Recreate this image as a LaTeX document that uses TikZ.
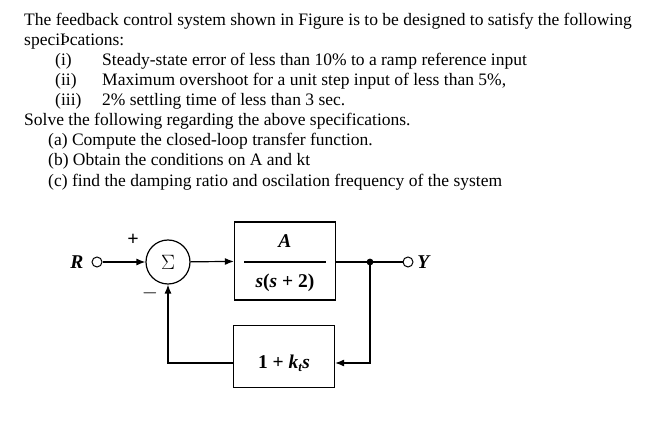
\documentclass[tikz,border=0pt]{standalone}
\usepackage{fontspec}
\setmainfont{Liberation Serif}
\usetikzlibrary{arrows.meta}
\begin{document}
\begin{tikzpicture}[x=1pt,y=-1pt,
  txt/.style={anchor=base west,inner sep=0pt,font=\fontsize{17.5}{19}\selectfont},
  blk/.style={draw,line width=1.2pt,minimum width=101pt,inner sep=0pt},
  dg/.style={font=\fontsize{19.5}{21}\selectfont\bfseries},
  ln/.style={line width=1.2pt},
  ar/.style={ln,-{Latex[length=9pt,width=7pt]}},
  term/.style={draw,circle,line width=1pt,minimum size=10pt,inner sep=0pt}]
\useasboundingbox (0,0) rectangle (654,446);
\node[txt] (l1) at (24,26) {The feedback control system shown in Figure is to be designed to satisfy the following};
\node[txt] (l2) at (24,46) {speciÞcations:};
\node[txt] (l3a) at (55,66) {(i)};
\node[txt] (l3) at (102,66) {Steady-state error of less than 10\% to a ramp reference input};
\node[txt] (l4a) at (55,86) {(ii)};
\node[txt] (l4) at (102,86) {Maximum overshoot for a unit step input of less than 5\%,};
\node[txt] (l5a) at (55,106) {(iii)};
\node[txt] (l5) at (102,106) {2\% settling time of less than 3 sec.};
\node[txt] (l6) at (24,126) {Solve the following regarding the above specifications.};
\node[txt] (l7) at (48,146) {(a) Compute the closed-loop transfer function.};
\node[txt] (l8) at (48,166) {(b) Obtain the conditions on A and kt};
\node[txt] (l9) at (48,187) {(c) find the damping ratio and oscilation frequency of the system};

\node[dg] (R) at (77,262) {\textit{R}};
\node[term] (rt) at (97,262) {};
\node[draw,circle,line width=1.2pt,minimum size=44pt,inner sep=0pt,font=\fontsize{22}{24}\selectfont] (sum) at (168,262) {$\Sigma$};
\node[blk,minimum height=78pt] (G) at (285,261) {};
\node[dg] (Gn) at (285,241) {\textit{A}};
\draw[ln] (244,262) -- (326,262);
\node[dg] (Gd) at (285,283) {\textit{s}(\textit{s} + 2)};
\node[blk,minimum height=62pt,anchor=north] (H) at (284,325) {};
\node[dg] (Hl) at (284,363) {1 + \textit{k}\raisebox{-0.35ex}{\fontsize{13}{13}\selectfont\textit{t}}\textit{s}};
\coordinate (bp) at (370,262);
\fill (bp) circle (3.4pt);
\node[term] (yt) at (408,262) {};
\node[dg] (Y) at (424,262) {\textit{Y}};
\node[font=\fontsize{20}{20}\selectfont\bfseries] (plus) at (133,240) {+};
\node[font=\fontsize{22}{22}\selectfont\bfseries] (minus) at (150,293) {$-$};
\draw[ar] (rt) -- (sum);
\draw[ar] (sum) -- (G);
\draw[ln] (G.east |- bp) -- (bp) -- (yt);
\draw[ar] (bp) |- (H.east |- 0,363);
\draw[ar] (H.west |- 0,363) -| (sum.south);
\end{tikzpicture}
\end{document}
